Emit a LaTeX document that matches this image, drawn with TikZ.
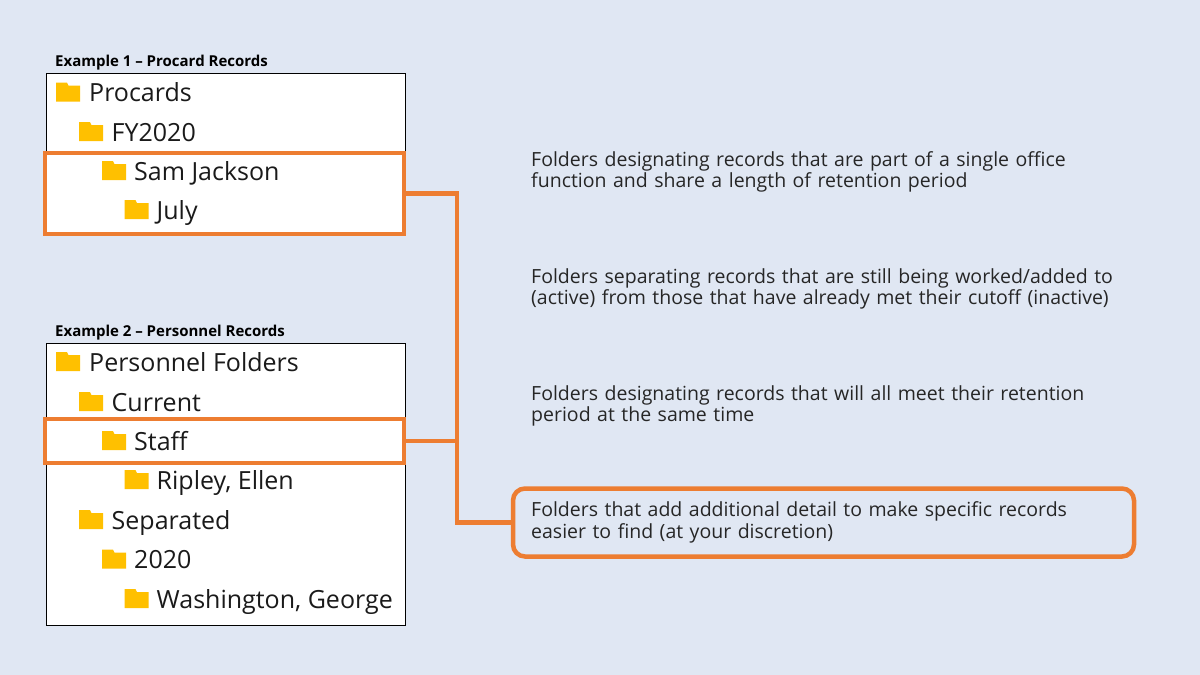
\documentclass[tikz,border=0pt]{standalone}
\usepackage{fontspec}
\setmainfont{Open Sans}
\definecolor{bg}{HTML}{E0E7F3}
\definecolor{orng}{HTML}{ED7D31}
\definecolor{fold}{HTML}{FFC000}
\definecolor{txt}{HTML}{1A1A1A}
\definecolor{ntxt}{HTML}{262626}
\tikzset{
  x=1pt,y=-1pt,
  treebox/.style={draw=black,line width=0.9pt,fill=white},
  hlbox/.style={draw=orng,line width=4.5pt,inner sep=0pt,outer sep=0pt},
  conn/.style={draw=orng,line width=4.5pt},
  caption/.style={anchor=base west,inner sep=0pt,font=\fontsize{15}{17}\selectfont\bfseries,text=black},
  item/.style={anchor=base west,inner sep=0pt,font=\fontsize{25}{28}\selectfont,text=txt},
  note/.style={anchor=base west,inner sep=0pt,align=left,text width=640pt,font=\fontsize{19.5}{21.5}\selectfont,text=ntxt},
  notebox/.style={draw=orng,line width=4.5pt,rounded corners=12pt,outer sep=0pt}
}
\newcommand{\foldericon}[2]{%
  \fill[fold] (#1,#2-19) -- (#1+11,#2-19) -- (#1+12.5,#2-16) -- (#1+24,#2-16) -- (#1+24,#2) -- (#1,#2) -- cycle;
}
\begin{document}
\begin{tikzpicture}
\useasboundingbox (0,0) rectangle (1200,675);
\fill[bg] (0,0) rectangle (1200,675);

% Example 1
\node[caption] (cap1) at (55,66.5) {Example 1 – Procard Records};
\draw[treebox] (46,73) rectangle (405.5,234);
\foldericon{56}{101.5}
\node[item] (p1) at (89,101) {Procards};
\foldericon{79}{141}
\node[item] (p2) at (111.5,141) {FY2020};
\foldericon{102}{180}
\node[item] (p3) at (134,180) {Sam Jackson};
\foldericon{124.5}{219}
\node[item] (p4) at (156.5,219) {July};
\node[hlbox,minimum width=359pt,minimum height=81pt,anchor=north west] (hl1) at (45,153) {};

% Example 2
\node[caption] (cap2) at (55,336.5) {Example 2 – Personnel Records};
\draw[treebox] (46,343) rectangle (405.5,625);
\foldericon{56}{371}
\node[item] (q1) at (89,371) {Personnel Folders};
\foldericon{79}{411}
\node[item] (q2) at (111.5,411) {Current};
\foldericon{102}{450}
\node[item] (q3) at (134,450) {Staff};
\foldericon{124.5}{489}
\node[item] (q4) at (156.5,489) {Ripley, Ellen};
\foldericon{79}{529}
\node[item] (q5) at (111.5,529) {Separated};
\foldericon{102}{568.5}
\node[item] (q6) at (134,568.5) {2020};
\foldericon{124.5}{608}
\node[item] (q7) at (156.5,608) {Washington, George};
\node[hlbox,minimum width=359pt,minimum height=44pt,anchor=north west] (hl2) at (45,419) {};

% notes
\node[note] (n1) at (531,166) {Folders designating records that are part of a single office\\function and share a length of retention period};
\node[note] (n2) at (531,283) {Folders separating records that are still being worked/added to\\(active) from those that have already met their cutoff (inactive)};
\node[note] (n3) at (531,400) {Folders designating records that will all meet their retention\\period at the same time};
\node[notebox,minimum width=621pt,minimum height=68pt,anchor=north west] (n4box) at (513,488.5) {};
\node[note] (n4) at (531,516.5) {Folders that add additional detail to make specific records\\easier to find (at your discretion)};

% connectors
\coordinate (j1) at ([xshift=53pt]hl1.east);
\draw[conn] (hl1.east) -- (j1) |- (n4box.west);
\draw[conn] (hl2.east) -- (hl2.east -| j1);
\end{tikzpicture}
\end{document}
